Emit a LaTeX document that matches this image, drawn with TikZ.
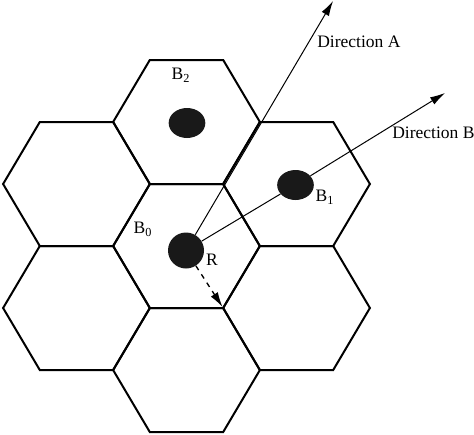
\documentclass[tikz,border=0pt]{standalone}
\usepackage{fontspec}
\setmainfont{Liberation Serif}
\usepackage{tikz}
\usetikzlibrary{arrows.meta,shapes.geometric}

\begin{document}
\begin{tikzpicture}[x=0.6pt,y=-0.6pt,
	hexline/.style={line width=1.2pt,line join=miter},
	dot/.style={ellipse,fill=black!90,inner sep=0pt,minimum width=22pt,minimum height=18pt},
	lbl/.style={inner sep=0pt,font=\fontsize{10.5}{12}\selectfont},
	>={Latex[length=9pt,width=5pt]}]
	\def\rx{73.4};
	\def\hh{62};
	\useasboundingbox (0,0) rectangle (474,434);
	
	% cells
	\foreach \x/\y in {186.5/122, 186.5/246, 186.5/370, 76.5/184, 76.5/308, 296.5/184, 296.5/308}
		\draw[hexline] (\x-\rx,\y) -- (\x-\rx/2,\y-\hh) -- (\x+\rx/2,\y-\hh)
			-- (\x+\rx,\y) -- (\x+\rx/2,\y+\hh) -- (\x-\rx/2,\y+\hh) -- cycle;
	
	% base stations and receiver
	\node[dot] (b2) at (187,123) {};
	\node[dot] (b1) at (295.5,185) {};
	\node[dot,minimum width=21.6pt,minimum height=21.6pt] (r) at (186,250.5) {};
	
	\node[lbl] (lb2) at (181,75) {B\textsubscript{2}};
	\node[lbl] (lb1) at (325,197) {B\textsubscript{1}};
	\node[lbl] (lb0) at (143,229) {B\textsubscript{0}};
	\node[lbl] (lr) at (212,260) {R};
	
	% directions
	\coordinate (tipA) at (333,1);
	\coordinate (tipB) at (445,93);
	\coordinate (corner) at (222.5,307);
	\draw[->,line width=0.6pt] (r) -- (tipA);
	\draw[->,line width=0.6pt] (r) -- (b1) -- (tipB);
	\draw[->,line width=0.8pt,dashed] (r) -- (corner);
	
	\node[lbl,anchor=west] (da) at (317,42) {Direction A};
	\node[lbl,anchor=west] (db) at (392,133) {Direction B};
\end{tikzpicture}
\end{document}
